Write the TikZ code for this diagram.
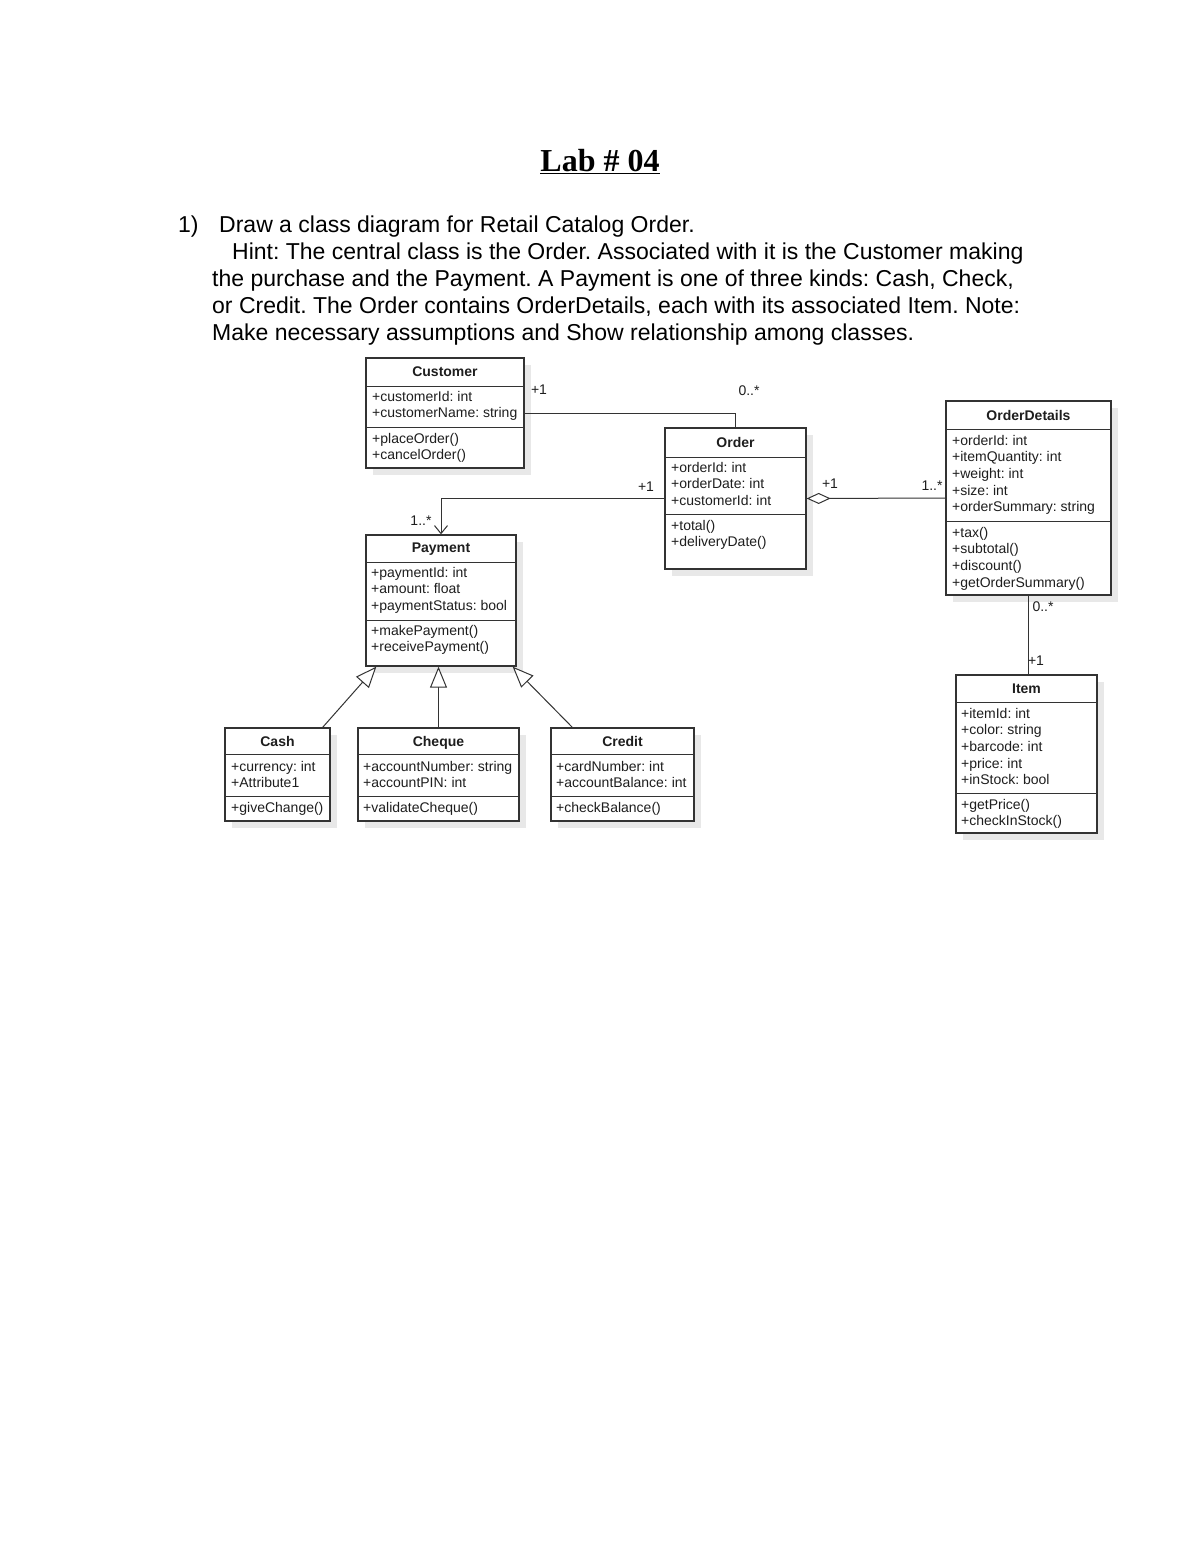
\documentclass[tikz,border=0pt]{standalone}
\usepackage{fontspec}
\setmainfont{Liberation Sans}
\newfontfamily\timesf{Liberation Serif}
\usetikzlibrary{arrows.meta,fit,calc}
\frenchspacing
\definecolor{linec}{HTML}{333333}
\definecolor{txtc}{HTML}{1E1E1E}
\definecolor{shadc}{HTML}{E8E8E8}
\tikzset{
  umlbox/.style={draw=linec, line width=1.3pt, inner sep=0pt, fill=white},
  divline/.style={draw=linec, line width=0.9pt},
  ctext/.style={font=\fontsize{14}{16.7}\selectfont, text=txtc, inner sep=0pt, anchor=base west},
  ctitle/.style={font=\bfseries\fontsize{14}{16}\selectfont, text=txtc, inner sep=0pt, anchor=base},
  mult/.style={font=\fontsize{14}{16}\selectfont, text=txtc, inner sep=0pt},
  conn/.style={draw=linec, line width=1pt},
  gen/.style={conn, -{Triangle[open,length=21pt,width=17pt,fill=white]}},
  nav/.style={conn, -{Straight Barb[length=8pt,width=13pt]}},
  agg/.style={conn, {Diamond[open,length=24pt,width=11pt,fill=white]}-},
  body/.style={font=\fontsize{23}{27}\selectfont, inner sep=0pt, anchor=base west}
}
\newcommand{\umlclass}[7]{%
  \fill[shadc] ({#2+7},{#3+7}) rectangle ({#4+7},{#7+7});
  \node[umlbox, fit={(#2,#3) (#4,#7)}] (#1) {};
  \draw[divline] (#2,#5) -- (#4,#5);
  \draw[divline] (#2,#6) -- (#4,#6);
}
\newcommand{\umlrows}[4]{%
  \foreach \t [count=\i from 0] in {#4} {
    \node[ctext] (#1-\i) at (#2, {#3+\i*16.7}) {\t};
  }
}
\begin{document}
\begin{tikzpicture}[x=1pt,y=-1pt]
\useasboundingbox[fill=white] (0,0) rectangle (1200,1553);

% ---- heading and task text
\node[inner sep=0pt, anchor=base, font=\timesf\bfseries\fontsize{32}{36}\selectfont] (title) at (600,171) {\underline{Lab \# 04}};
\node[body] (q1) at (178,232) {1)};
\node[body] (l1) at (219,232) {Draw a class diagram for Retail Catalog Order.};
\node[body] (l2) at (232,259) {Hint: The central class is the Order. Associated with it is the Customer making};
\node[body] (l3) at (212,286) {the purchase and the Payment. A Payment is one of three kinds: Cash, Check,};
\node[body] (l4) at (212,313) {or Credit. The Order contains OrderDetails, each with its associated Item. Note:};
\node[body] (l5) at (212,340) {Make necessary assumptions and Show relationship among classes.};

% ---- classes
\umlclass{cust}{366}{358}{524}{386}{427}{468}
\node[ctitle] (cust-t) at (445,376) {Customer};
\umlrows{cust-a}{372}{401}{+customerId: int,+customerName: string}
\umlrows{cust-m}{372}{443}{+placeOrder(),+cancelOrder()}

\umlclass{order}{665}{428}{806}{457}{514}{569}
\node[ctitle] (order-t) at (735.5,447) {Order};
\umlrows{order-a}{671}{472}{+orderId: int,+orderDate: int,+customerId: int}
\umlrows{order-m}{671}{530}{+total(),+deliveryDate()}

\umlclass{od}{946}{401}{1111}{429}{521}{595}
\node[ctitle] (od-t) at (1028.5,420) {OrderDetails};
\umlrows{od-a}{952}{445}{+orderId: int,+itemQuantity: int,+weight: int,+size: int,+orderSummary: string}
\umlrows{od-m}{952}{537}{+tax(),+subtotal(),+discount(),+getOrderSummary()}

\umlclass{pay}{366}{535}{516}{562}{620}{666}
\node[ctitle] (pay-t) at (441,552) {Payment};
\umlrows{pay-a}{371}{577}{+paymentId: int,+amount: float,+paymentStatus: bool}
\umlrows{pay-m}{371}{635}{+makePayment(),+receivePayment()}

\umlclass{cash}{225}{728}{330}{754}{796}{821}
\node[ctitle] (cash-t) at (277.5,746) {Cash};
\umlrows{cash-a}{231}{771}{+currency: int,+Attribute1}
\umlrows{cash-m}{231}{812}{+giveChange()}

\umlclass{cheque}{358}{728}{519}{754}{796}{821}
\node[ctitle] (cheque-t) at (438.5,746) {Cheque};
\umlrows{cheque-a}{363}{771}{+accountNumber: string,+accountPIN: int}
\umlrows{cheque-m}{363}{812}{+validateCheque()}

\umlclass{credit}{551}{728}{694}{754}{796}{821}
\node[ctitle] (credit-t) at (622.5,746) {Credit};
\umlrows{credit-a}{556}{771}{+cardNumber: int,+accountBalance: int}
\umlrows{credit-m}{556}{812}{+checkBalance()}

\umlclass{item}{956}{675}{1097}{702}{793}{833}
\node[ctitle] (item-t) at (1026.5,693) {Item};
\umlrows{item-a}{961}{718}{+itemId: int,+color: string,+barcode: int,+price: int,+inStock: bool}
\umlrows{item-m}{961}{809}{+getPrice(),+checkInStock()}

% ---- connectors
\draw[conn] (cust.east) -| (order.north);
\draw[nav] (order.west) -| (pay.north);
\draw[agg] (order.east) -- (od.west);
\draw[conn] (od.south) -- (od.south |- item.north);
\draw[gen] ($(cash.north east)+(-8,0)$) -- ($(pay.south west)+(11,0)$);
\draw[gen] (cheque.north) -- (cheque.north |- pay.south);
\draw[gen] ($(credit.north west)+(22,0)$) -- ($(pay.south east)+(-4,0)$);

% ---- multiplicities
\node[mult] (m1) at (539,390) {+1};
\node[mult] (m2) at (749,391) {0..*};
\node[mult] (m3) at (646,487) {+1};
\node[mult] (m4) at (421,521) {1..*};
\node[mult] (m5) at (830,484) {+1};
\node[mult] (m6) at (932,486) {1..*};
\node[mult] (m7) at (1043,607) {0..*};
\node[mult] (m8) at (1036,661) {+1};
\end{tikzpicture}
\end{document}
